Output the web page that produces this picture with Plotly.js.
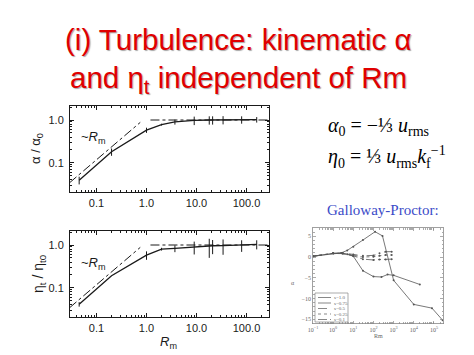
<!DOCTYPE html>
<html>
<head>
<meta charset="utf-8">
<script src="https://cdn.plot.ly/plotly-3.0.1.min.js"></script>
<style>html,body{margin:0;padding:0;background:#fff;}#chart{width:474px;height:355px;}</style>
</head>
<body>
<div id="chart"></div>
<script>
// ---- Data ----
const rm = [0.045, 0.2, 1.0, 2.0, 3.7, 9, 18, 21, 34, 80, 160];
const alphaRatio = [0.039, 0.18, 0.58, 0.78, 0.9, 0.98, 1.0, 1.0, 1.01, 1.02, 1.02];
const alphaErr = [0.008, 0.035, 0.08, 0.04, 0.12, 0.22, 0.22, 0.22, 0.22, 0.2, 0.15];
const etaRatio = [0.041, 0.19, 0.58, 0.8, 0.83, 0.9, 0.95, 0.96, 0.97, 0.99, 1.04];
const etaErr = [0.005, 0, 0.13, 0.06, 0.15, 0.3, 0.45, 0.35, 0.38, 0.3, 0.25];
const slopeX = [0.029, 0.75];
const slopeY = [0.034, 0.88];
const plateauX = [1.2, 280];
const plateauY = [1.0, 1.0];

// Galloway-Proctor panel
const gpLabels = ["s=1.0", "s=0.75", "s=0.5", "s=0.25", "s=0.1"];
const gpRm1 = [0.1, 1, 2.5, 5, 10, 30, 120, 280, 1000, 10000, 80000, 270000];
const gpA1 = [0.2, 0.9, 1.0, 1.6, 2.5, 4.1, 6.1, 5.1, -5.6, -11.4, -12.3, -15.2];
const gpRm2 = [0.1, 1, 2.5, 5, 10, 30, 100, 250, 500, 1000, 20000];
const gpA2 = [0.2, 0.9, 0.9, 0.7, 0.2, -3.3, -4.7, -4.8, -4.2, -4.4, -6.6];
const gpRm3 = [0.1, 1, 3, 10, 30, 100, 200, 400, 800];
const gpA3 = [0.2, 0.9, 1.0, 0.6, 0.3, 0.4, 0.9, 1.3, 1.3];
const gpA4 = [0.2, 0.9, 0.9, 0.4, 0.0, 0.1, 0.3, 0.5, 0.5];
const gpA5 = [0.2, 0.9, 0.8, 0.3, -0.5, -0.7, -0.6, -0.6, -0.5];
const gpXTickVals = [0.1, 1, 10, 100, 1000, 10000, 100000];
const gpXTickText = ["10<sup>−1</sup>", "10<sup>0</sup>", "10<sup>1</sup>", "10<sup>2</sup>", "10<sup>3</sup>", "10<sup>4</sup>", "10<sup>5</sup>"];

// ---- helpers for placing layout items in pixels ----
const W = 474, H = 355;
const px = x => x / W;
const py = y => 1 - y / H;

const ink = '#1a1a1a';
const gpInk = '#666';
const gpLine = '#555';

const mainLine = {color: ink, width: 1.3};
const refLine = {color: ink, width: 1, dash: 'dashdot'};

const traces = [
  {x: rm, y: alphaRatio, xaxis: 'x', yaxis: 'y', mode: 'lines', line: mainLine,
   error_y: {type: 'data', array: alphaErr, visible: true, width: 0, thickness: 1, color: ink}},
  {x: slopeX, y: slopeY, xaxis: 'x', yaxis: 'y', mode: 'lines', line: refLine},
  {x: plateauX, y: plateauY, xaxis: 'x', yaxis: 'y', mode: 'lines', line: refLine},
  {x: rm, y: etaRatio, xaxis: 'x2', yaxis: 'y2', mode: 'lines', line: mainLine,
   error_y: {type: 'data', array: etaErr, visible: true, width: 0, thickness: 1, color: ink}},
  {x: slopeX, y: slopeY, xaxis: 'x2', yaxis: 'y2', mode: 'lines', line: refLine},
  {x: plateauX, y: plateauY, xaxis: 'x2', yaxis: 'y2', mode: 'lines', line: refLine},
  {x: gpRm1, y: gpA1, xaxis: 'x3', yaxis: 'y3', mode: 'lines+markers', name: gpLabels[0],
   line: {color: gpLine, width: 0.8}, marker: {size: 2, color: gpLine}},
  {x: gpRm2, y: gpA2, xaxis: 'x3', yaxis: 'y3', mode: 'lines+markers', name: gpLabels[1],
   line: {color: gpLine, width: 0.8}, marker: {size: 2, color: gpLine}},
  {x: gpRm3, y: gpA3, xaxis: 'x3', yaxis: 'y3', mode: 'lines+markers', name: gpLabels[2],
   line: {color: gpLine, width: 0.8, dash: 'dash'}, marker: {size: 2, color: gpLine}},
  {x: gpRm3, y: gpA4, xaxis: 'x3', yaxis: 'y3', mode: 'lines+markers', name: gpLabels[3],
   line: {color: gpLine, width: 0.8, dash: 'dot'}, marker: {size: 2, color: gpLine}},
  {x: gpRm3, y: gpA5, xaxis: 'x3', yaxis: 'y3', mode: 'lines+markers', name: gpLabels[4],
   line: {color: gpLine, width: 0.8, dash: 'dashdot'}, marker: {size: 2, color: gpLine}}
];

const leftAxis = {
  type: 'log', showline: true, linecolor: ink, linewidth: 1, mirror: 'ticks',
  ticks: 'inside', ticklen: 4, tickcolor: ink, tickwidth: 1, showgrid: false, zeroline: false,
  dtick: 1, tickformat: '.1f', tickfont: {size: 11, color: ink, family: 'Liberation Sans'},
  minor: {ticks: 'inside', ticklen: 2, tickcolor: ink, dtick: 'D1', showgrid: false},
  automargin: false, fixedrange: true
};

const gpMinor = [];
for (let e = -1; e <= 5; e++) for (let d = 2; d <= 9; d++) gpMinor.push(d * Math.pow(10, e));

const gpAxisBase = {
  showline: true, linecolor: '#888', linewidth: 0.8, mirror: 'ticks', ticks: 'inside',
  ticklen: 3, tickcolor: '#888', tickwidth: 0.7, showgrid: false, zeroline: false,
  tickfont: {size: 6, color: gpInk, family: 'Liberation Serif'}, automargin: false
};

function note(x, y, text, font, extra) {
  return Object.assign({x: px(x), y: py(y), xref: 'paper', yref: 'paper', showarrow: false,
    xanchor: 'center', yanchor: 'middle', text: text, font: font}, extra || {});
}

const titleFont = {family: 'Liberation Sans', size: 29.5, color: '#e00000', shadow: '1px 1px 1px rgba(0,0,0,0.35)'};
const eqFont = {family: 'Liberation Serif', size: 20, color: '#000'};
const labFont = {family: 'Liberation Sans', size: 13, color: ink};
const gpFont = {family: 'Liberation Serif', size: 6, color: gpInk};

const xDom = [px(70), px(269)];
const layout = {
  width: W, height: H, margin: {l: 0, r: 0, t: 0, b: 0}, showlegend: false,
  paper_bgcolor: '#fff', plot_bgcolor: '#fff',
  font: {family: 'Liberation Sans', color: ink},
  xaxis: Object.assign({}, leftAxis, {domain: xDom, range: [-1.53, 2.45], anchor: 'y', ticklabelstandoff: 1}),
  yaxis: Object.assign({}, leftAxis, {domain: [py(192), py(106)], range: [-1.686, 0.328], anchor: 'x', ticklabelstandoff: 3}),
  xaxis2: Object.assign({}, leftAxis, {domain: xDom, range: [-1.53, 2.45], anchor: 'y2', ticklabelstandoff: 1}),
  yaxis2: Object.assign({}, leftAxis, {domain: [py(317), py(231)], range: [-1.686, 0.328], anchor: 'x2', ticklabelstandoff: 3}),
  xaxis3: Object.assign({}, gpAxisBase, {type: 'log', domain: [px(313), px(443)], range: [-1, 5.45], anchor: 'y3',
    tickmode: 'array', tickvals: gpXTickVals, ticktext: gpXTickText, ticklabelstandoff: 0,
    minor: {tickmode: 'array', tickvals: gpMinor, ticks: 'inside', ticklen: 1.5, tickcolor: '#888'}}),
  yaxis3: Object.assign({}, gpAxisBase, {domain: [py(323.5), py(228)], range: [-16, 7], anchor: 'x3', dtick: 5,
    minor: {dtick: 1, ticks: 'inside', ticklen: 1.5, tickcolor: '#888'}}),
  annotations: [
    note(238, 58.5, '(i) Turbulence: kinematic α', titleFont, {yanchor: 'bottom'}),
    note(239, 58.5, 'and η<sub>t</sub> independent of Rm', titleFont, {yanchor: 'top'}),
    note(326, 127, '<i>α</i><sub>0</sub> = −⅓ <i>u</i><sub>rms</sub>', eqFont, {xanchor: 'left'}),
    note(326, 157, '<i>η</i><sub>0</sub> = ⅓ <i>u</i><sub>rms</sub><i>k</i><sub>f</sub><sup>−1</sup>', eqFont, {xanchor: 'left'}),
    note(383, 210, 'Galloway-Proctor:', {family: 'Liberation Serif', size: 15, color: '#3b4bc8'}),
    // left panel labels
    note(36, 149, 'α / α<sub>0</sub>', labFont, {textangle: -90}),
    note(39, 274, 'η<sub>t</sub> / η<sub>t0</sub>', {family: 'Liberation Sans', size: 14, color: ink}, {textangle: -90}),
    note(93, 138, '~<i>R</i><sub>m</sub>', labFont),
    note(93, 263, '~<i>R</i><sub>m</sub>', labFont),
    note(168, 342, '<i>R</i><sub>m</sub>', labFont),
    // GP labels
    note(378, 336, 'Rm', gpFont),
    note(293, 283, 'α', gpFont)
  ],
  shapes: [
    {type: 'rect', xref: 'paper', yref: 'paper', x0: px(315), x1: px(348), y0: py(322), y1: py(293),
     line: {color: '#888', width: 0.7}, fillcolor: '#fff'}
  ]
};

// manual legend rows for the GP panel
const dashes = ['solid', 'solid', 'dash', 'dot', 'dashdot'];
gpLabels.forEach((lab, i) => {
  const yy = 297.5 + i * 5.5;
  layout.shapes.push({type: 'line', xref: 'paper', yref: 'paper', x0: px(318), x1: px(331), y0: py(yy), y1: py(yy),
    line: {color: gpLine, width: 0.7, dash: dashes[i]}});
  layout.annotations.push(note(332, yy, lab, {family: 'Liberation Serif', size: 5, color: gpInk}, {xanchor: 'left'}));
});

Plotly.newPlot('chart', traces, layout, {staticPlot: true, displayModeBar: false});
</script>
</body>
</html>
